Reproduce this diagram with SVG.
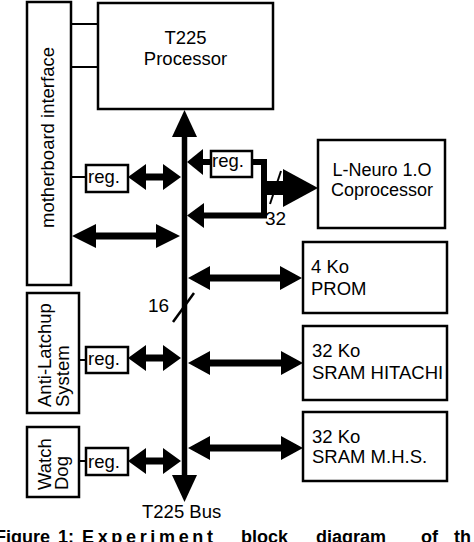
<svg xmlns="http://www.w3.org/2000/svg" width="474" height="542" viewBox="0 0 474 542">
<style>
.box{fill:#fff;stroke:#000;stroke-width:2.5}
.t{font-family:"Liberation Sans",Arial,sans-serif;font-size:18.5px;fill:#000}
.c{text-anchor:middle}
.ln{stroke:#000;stroke-width:2;fill:none}
.thick{stroke:#000;fill:none}
.ar{fill:#000}
.cap{font-family:"Liberation Sans",Arial,sans-serif;font-size:18px;font-weight:bold;fill:#000}
</style>
<rect width="474" height="542" fill="#fff"/>

<g id="connectors">
  <line class="ln" x1="71" y1="24" x2="98" y2="24"/>
  <line class="ln" x1="71" y1="67" x2="98" y2="67"/>
  <line class="ln" x1="71" y1="177" x2="86" y2="177"/>
  <line class="ln" x1="79" y1="360" x2="86" y2="360"/>
  <line class="ln" x1="79" y1="461" x2="86" y2="461"/>
  <!-- T225 bus -->
  <line class="thick" x1="184.5" y1="132" x2="184.5" y2="478" stroke-width="5.5"/>
  <polygon class="ar" points="184.5,110 172,137 197,137"/>
  <polygon class="ar" points="172,475 197,475 184.5,502"/>
  <line class="thick" x1="173" y1="322" x2="194" y2="293" stroke-width="2.5"/>
  <!-- left side arrows -->
  <polygon class="ar" points="72,236 96,224 96,232.5 156,232.5 156,224 180,236 156,248 156,239.5 96,239.5 96,248"/>
  <polygon class="ar" points="128,177 146,164 146,173.5 163,173.5 163,164 181,177 163,190 163,180.5 146,180.5 146,190"/>
  <polygon class="ar" points="128,358 146,345 146,354.5 163,354.5 163,345 181,358 163,371 163,361.5 146,361.5 146,371"/>
  <polygon class="ar" points="128,461 146,448 146,457.5 163,457.5 163,448 181,461 163,474 163,464.5 146,464.5 146,474"/>
  <!-- memories -->
  <polygon class="ar" points="188,278 210,266 210,274.5 280,274.5 280,266 302,278 280,290 280,281.5 210,281.5 210,290"/>
  <polygon class="ar" points="188,363 210,351 210,359.5 281,359.5 281,351 303,363 281,375 281,366.5 210,366.5 210,375"/>
  <polygon class="ar" points="188,448 210,436 210,444.5 281,444.5 281,436 303,448 281,460 281,451.5 210,451.5 210,460"/>
  <!-- coprocessor link -->
  <line class="thick" x1="201" y1="162" x2="212" y2="162" stroke-width="6"/>
  <polygon class="ar" points="187,162 203,149 203,175"/>
  <polyline class="thick" points="251,162 264,162 264,215.5 200,215.5" stroke-width="6"/>
  <polygon class="ar" points="187,215.5 204,203 204,228"/>
  <rect class="ar" x="262" y="181" width="22" height="14"/>
  <polygon class="ar" points="283,169 318,188 283,207"/>
  <line class="thick" x1="270" y1="204" x2="281" y2="171" stroke-width="2"/>
  <text class="t" x="265" y="225" style="font-size:19px">32</text>
  <text class="t" x="148" y="312" style="font-size:19px">16</text>
  <text class="t" x="142" y="518">T225 Bus</text>
</g>

<g id="motherboard">
  <rect class="box" x="27" y="2" width="44" height="283"/>
  <text class="t c" transform="translate(54,137.5) rotate(-90)">motherboard interface</text>
</g>
<g id="processor">
  <rect class="box" x="98" y="3" width="175" height="106"/>
  <text class="t c" x="185.5" y="44">T225</text>
  <text class="t c" x="185.5" y="65">Processor</text>
</g>
<g id="reg1">
  <rect class="box" x="86" y="165" width="42" height="27"/>
  <text class="t" x="88" y="183">reg.</text>
</g>
<g id="reg2">
  <rect class="box" x="211" y="151" width="41" height="26"/>
  <text class="t" x="212" y="167">reg.</text>
</g>
<g id="coprocessor">
  <rect class="box" x="318" y="140" width="127" height="88"/>
  <text class="t c" x="382" y="176" style="font-size:18px">L-Neuro 1.O</text>
  <text class="t c" x="382" y="196" style="font-size:18px">Coprocessor</text>
</g>
<g id="prom">
  <rect class="box" x="303" y="242" width="144" height="71"/>
  <text class="t" x="311" y="273">4 Ko</text>
  <text class="t" x="311" y="295">PROM</text>
</g>
<g id="antilatchup">
  <rect class="box" x="27" y="293" width="52" height="120"/>
  <text class="t" transform="translate(51,407) rotate(-90)">Anti-Latchup</text>
  <text class="t" transform="translate(69,407) rotate(-90)">System</text>
</g>
<g id="reg3">
  <rect class="box" x="86" y="347" width="42" height="26"/>
  <text class="t" x="88" y="365">reg.</text>
</g>
<g id="sram-hitachi">
  <rect class="box" x="303" y="326" width="144" height="74"/>
  <text class="t" x="312" y="357">32 Ko</text>
  <text class="t" x="312" y="379">SRAM HITACHI</text>
</g>
<g id="watchdog">
  <rect class="box" x="27" y="427" width="52" height="70"/>
  <text class="t" transform="translate(51,490) rotate(-90)">Watch</text>
  <text class="t" transform="translate(68,490) rotate(-90)">Dog</text>
</g>
<g id="reg4">
  <rect class="box" x="86" y="448" width="42" height="27"/>
  <text class="t" x="88" y="468">reg.</text>
</g>
<g id="sram-mhs">
  <rect class="box" x="303" y="412" width="144" height="69"/>
  <text class="t" x="312" y="443">32 Ko</text>
  <text class="t" x="312" y="463">SRAM M.H.S.</text>
</g>
<g id="caption">
  <text class="cap" x="-5" y="543">Figure</text>
  <text class="cap" x="58" y="543">1:</text>
  <text class="cap" x="82" y="543" textLength="131" lengthAdjust="spacing">Experiment</text>
  <text class="cap" x="241" y="543">block</text>
  <text class="cap" x="316" y="543">diagram</text>
  <text class="cap" x="421" y="543">of</text>
  <text class="cap" x="454" y="543">th</text>
</g>
</svg>
